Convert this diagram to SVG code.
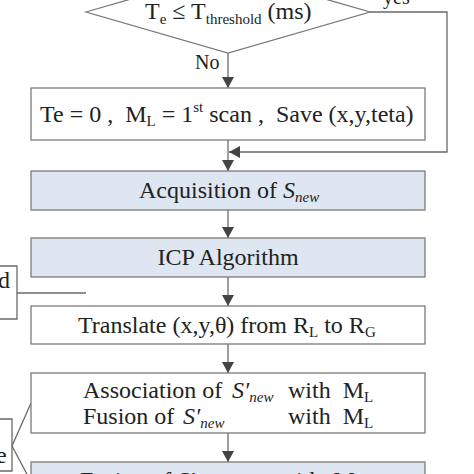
<svg xmlns="http://www.w3.org/2000/svg" width="474" height="474" viewBox="0 0 474 474">
<style>
.box{stroke:#7a7a7a;stroke-width:1.3;fill:#fff}
.blue{fill:#dde6f1}
.ln{stroke:#6a6a6a;stroke-width:1.3;fill:none}
.t{font-family:"Liberation Serif","Times New Roman",serif;font-size:24px;fill:#222;white-space:pre}
.it{font-style:italic}
.sub{font-size:15px}
</style>
<defs>
<marker id="ah" viewBox="0 0 11 12" refX="11" refY="6" markerWidth="11" markerHeight="12" markerUnits="userSpaceOnUse" orient="auto">
<path d="M0,0 L11,6 L0,12 z" fill="#444"/>
</marker>
</defs>
<rect width="474" height="474" fill="#fff"/>
<g id="connectors">
<line class="ln" x1="228" y1="53" x2="228" y2="88" marker-end="url(#ah)"/>
<polyline class="ln" points="370,12 447,12 447,152 229,152" marker-end="url(#ah)"/>
<line class="ln" x1="228" y1="140" x2="228" y2="171" marker-end="url(#ah)"/>
<line class="ln" x1="228" y1="210" x2="228" y2="238" marker-end="url(#ah)"/>
<line class="ln" x1="228" y1="277" x2="228" y2="306" marker-end="url(#ah)"/>
<line class="ln" x1="228" y1="344" x2="228" y2="373" marker-end="url(#ah)"/>
<line class="ln" x1="228" y1="433" x2="228" y2="462" marker-end="url(#ah)"/>
<line class="ln" x1="17" y1="293" x2="86" y2="293"/>
<polyline class="ln" points="12,446 31,403"/>
<polyline class="ln" points="12,446 29,478"/>
<text class="t" x="195" y="69" style="font-size:20px">No</text>
<text class="t" x="383" y="4" style="font-size:20px">yes</text>
</g>
<g id="decision">
<polygon class="box" points="86,12 228,-29 370,12 228,53"/>
<text class="t" x="145" y="19">T<tspan class="sub" dy="5">e</tspan><tspan dy="-5"> ≤ T</tspan><tspan class="sub" dy="5">threshold</tspan><tspan dy="-5"> (ms)</tspan></text>
</g>
<g id="init">
<rect class="box" x="31" y="88" width="394" height="52"/>
<text class="t" x="40" y="122">Te = 0 ,  M<tspan class="sub" dy="4">L</tspan><tspan dy="-4"> = 1</tspan><tspan class="sub" dy="-10">st</tspan><tspan dy="10"> scan ,  Save (x,y,teta)</tspan></text>
</g>
<g id="acq">
<rect class="box blue" x="31" y="171" width="394" height="39"/>
<text class="t" x="139" y="198">Acquisition of <tspan class="it">S</tspan><tspan class="sub it" dy="4">new</tspan></text>
</g>
<g id="icp">
<rect class="box blue" x="31" y="238" width="394" height="39"/>
<text class="t" x="228" y="265" text-anchor="middle">ICP Algorithm</text>
</g>
<g id="translate">
<rect class="box" x="31" y="306" width="394" height="38"/>
<text class="t" x="78" y="333">Translate (x,y,θ) from R<tspan class="sub" dy="4">L</tspan><tspan dy="-4"> to R</tspan><tspan class="sub" dy="4">G</tspan></text>
</g>
<g id="assoc">
<rect class="box" x="31" y="373" width="394" height="60"/>
<text class="t" x="83" y="398">Association of</text>
<text class="t it" x="232" y="398">S′<tspan class="sub" dy="4">new</tspan></text>
<text class="t" x="288" y="398">with  M<tspan class="sub" dy="4">L</tspan></text>
<text class="t" x="83" y="424">Fusion of</text>
<text class="t it" x="183" y="424">S′<tspan class="sub" dy="4">new</tspan></text>
<text class="t" x="288" y="424">with  M<tspan class="sub" dy="4">L</tspan></text>
</g>
<g id="fusion">
<rect class="box blue" x="31" y="462" width="394" height="40"/>
<text class="t" x="80" y="488">Fusion of <tspan class="it">S′</tspan><tspan class="sub it" dy="4">new</tspan><tspan dy="-4">          with  M</tspan><tspan class="sub" dy="4">L</tspan></text>
</g>
<g id="side-top">
<polyline class="ln" points="0,266 17,266 17,319 0,319"/>
<text class="t" x="-2" y="288">d</text>
</g>
<g id="side-bottom">
<polyline class="ln" points="0,419 12,419 12,471 0,471"/>
<text class="t" x="-4" y="463">e</text>
</g>
</svg>
